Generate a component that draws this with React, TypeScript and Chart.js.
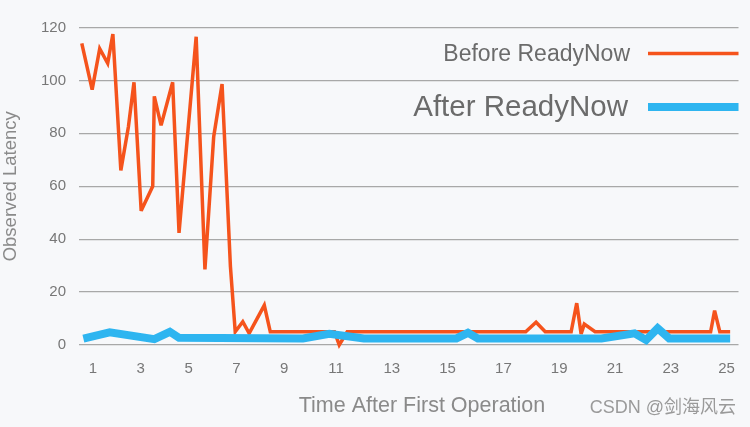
import React, { useEffect, useRef } from 'react';
import { Chart, registerables } from 'chart.js';

Chart.register(...registerables);

// x positions are sample slots along the time axis; tick labels mark selected slots
const tickSlots = [0, 12, 24, 36, 48, 61, 75, 89, 103, 117, 131, 145, 159];
const tickLabels = ['1', '3', '5', '7', '9', '11', '13', '15', '17', '19', '21', '23', '25'];

const seriesNames = ['Before ReadyNow', 'After ReadyNow'];
const seriesColors = ['#F5531C', '#2EB5F0'];

const beforeSlots = [
  -2.8, -0.2, 1.7, 3.7, 5.0, 7.0, 8.9, 10.3, 12.1, 15.0, 15.4, 17.1, 20.0, 21.6, 25.9, 28.1, 30.3,
  32.4, 34.5, 35.7, 37.6, 39.2, 43.0, 44.5, 60.6, 61.8, 63.8, 108.6, 111.2, 113.5, 120.0, 121.4,
  122.5, 123.3, 126.0, 155.0, 156.0, 157.3, 159.9,
];
const beforeValues = [
  114, 96.5, 112, 106.5, 117.5, 66, 82.5, 99.3, 50.7, 60, 94, 83, 99.3, 42.4, 116.5, 28.6, 78.7,
  98.6, 29.6, 5, 8.8, 4.4, 15, 5, 5, 0, 5, 5, 8.6, 5, 5, 15.8, 4.2, 7.9, 5, 5, 13, 5, 5,
];

const afterSlots = [
  -2.4, 4.2, 15.4, 19.3, 21.6, 52.7, 59.3, 68.0, 91.2, 94.1, 96.6, 127.6, 135.9, 138.8, 141.7,
  144.6, 159.9,
];
const afterValues = [2.4, 4.8, 2.2, 5, 2.7, 2.5, 4.2, 2.5, 2.5, 4.6, 2.5, 2.5, 4.4, 1.9, 6.3, 2.5, 2.5];

const yMin = 0;
const yMax = 120;
const yStep = 20;

const xTitle = 'Time After First Operation';
const yTitle = 'Observed Latency';
const watermark = 'CSDN @剑海风云';

const BG = '#F7F8FA';
const FONT = '"Liberation Sans", Arial, sans-serif';

const overlayPlugin = {
  id: 'overlay',
  beforeDraw(chart: any) {
    const { ctx, width, height } = chart;
    ctx.save();
    ctx.fillStyle = BG;
    ctx.fillRect(0, 0, width, height);
    ctx.restore();
  },
  beforeDatasetsDraw(chart: any) {
    chart.ctx.miterLimit = 3.5;
  },
  afterDatasetsDraw(chart: any) {
    chart.ctx.miterLimit = 10;
  },
  afterDraw(chart: any) {
    const { ctx, chartArea } = chart;
    ctx.save();
    ctx.textAlign = 'right';
    ctx.textBaseline = 'middle';
    ctx.fillStyle = '#6b6b6b';
    // legend entry 1
    ctx.font = `23px ${FONT}`;
    ctx.fillText(seriesNames[0], 630, 55);
    ctx.strokeStyle = seriesColors[0];
    ctx.lineWidth = 3.5;
    ctx.beginPath();
    ctx.moveTo(648, 53.5);
    ctx.lineTo(chartArea.right, 53.5);
    ctx.stroke();
    // legend entry 2
    ctx.font = `29.5px ${FONT}`;
    ctx.fillText(seriesNames[1], 628, 108);
    ctx.strokeStyle = seriesColors[1];
    ctx.lineWidth = 8;
    ctx.beginPath();
    ctx.moveTo(648, 107);
    ctx.lineTo(chartArea.right, 107);
    ctx.stroke();
    // watermark
    ctx.font = `18px ${FONT}, "Noto Sans CJK SC"`;
    ctx.fillStyle = '#9a9a9a';
    ctx.fillText(watermark, 736, 408);
    // x title
    ctx.textAlign = 'center';
    ctx.font = `21.5px ${FONT}`;
    ctx.fillStyle = '#8a8a8a';
    ctx.fillText(xTitle, 422, 406);
    ctx.restore();
  },
};

export default function App() {
  const canvasRef = useRef<HTMLCanvasElement | null>(null);

  useEffect(() => {
    document.body.style.margin = '0';
    document.body.style.background = BG;
    const canvas = canvasRef.current;
    if (!canvas) return;
    const chart = new Chart(canvas, {
      type: 'line',
      data: {
        datasets: [
          {
            label: seriesNames[1],
            data: afterSlots.map((x, i) => ({ x, y: afterValues[i] })),
            borderColor: seriesColors[1],
            backgroundColor: seriesColors[1],
            borderWidth: 8,
            pointRadius: 0,
            tension: 0,
            clip: false as any,
            order: 0,
          },
          {
            label: seriesNames[0],
            data: beforeSlots.map((x, i) => ({ x, y: beforeValues[i] })),
            borderColor: seriesColors[0],
            backgroundColor: seriesColors[0],
            borderWidth: 3.5,
            pointRadius: 0,
            tension: 0,
            clip: false as any,
            order: 1,
          },
        ],
      },
      options: {
        animation: false,
        responsive: false,
        devicePixelRatio: 1,
        layout: { padding: { top: 27.5, right: 5, left: 0, bottom: 0 } },
        plugins: {
          legend: { display: false },
          tooltip: { enabled: false },
        },
        scales: {
          x: {
            type: 'linear',
            min: -3.5,
            max: 162,
            grid: { display: false, drawTicks: false },
            border: { display: false },
            afterBuildTicks: (scale: any) => {
              scale.ticks = tickSlots.map((v) => ({ value: v }));
            },
            afterFit: (scale: any) => {
              scale.height = 82;
            },
            ticks: {
              autoSkip: false,
              maxRotation: 0,
              padding: 15,
              color: '#777',
              font: { family: FONT, size: 15 },
              callback: (value: any) => {
                const i = tickSlots.indexOf(Number(value));
                return i >= 0 ? tickLabels[i] : '';
              },
            },
            title: { display: false },
          },
          y: {
            type: 'linear',
            min: yMin,
            max: yMax,
            grid: { color: '#a8a8a8', lineWidth: 1.3, drawTicks: false },
            border: { display: false },
            afterFit: (scale: any) => {
              scale.width = 79;
            },
            ticks: {
              stepSize: yStep,
              padding: 13,
              color: '#777',
              font: { family: FONT, size: 15 },
            },
            title: {
              display: true,
              text: yTitle,
              color: '#8a8a8a',
              padding: 0,
              font: { family: FONT, size: 18.5 },
            },
          },
        },
      },
      plugins: [overlayPlugin],
    });
    return () => chart.destroy();
  }, []);

  return (
    <div style={{ width: 750, height: 427, background: BG }}>
      <canvas ref={canvasRef} width={750} height={427} style={{ display: 'block' }} />
    </div>
  );
}
